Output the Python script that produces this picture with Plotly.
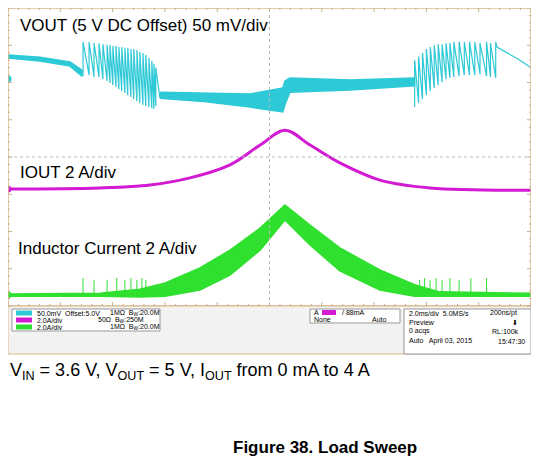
import plotly.graph_objects as go

# page body adds an 8 px margin, so the figure is 16 px smaller than the window
W, H = 523, 448
OFF = 8

# time axis: 2 ms/div, 10 divisions; vertical in scope divisions (8 div)
# VOUT band envelope (ms, div)
vout_t = [-10.0, -8.78, -7.63, -7.17]
vout_hi = [2.74, 2.68, 2.55, 2.33]
vout_lo = [2.66, 2.58, 2.44, 2.17]

# VOUT sawtooth teeth (ms, peak div, trough div)
tooth_t = [-7.13, -6.90, -6.71, -6.52, -6.37, -6.21, -6.10, -5.99, -5.87, -5.76, -5.65,
           -5.53, -5.42, -5.30, -5.19, -5.07, -4.96, -4.84, -4.73, -4.61, -4.50, -4.42, -4.35]
tooth_pk = [3.09, 3.09, 3.06, 3.06, 3.03, 3.01, 3.01, 2.98, 2.98, 2.95, 2.95,
            2.93, 2.93, 2.90, 2.90, 2.87, 2.82, 2.79, 2.74, 2.66, 2.58, 2.50, 2.40]
tooth_tr = [2.20, 2.15, 2.15, 2.09, 2.04, 1.99, 1.93, 1.88, 1.82, 1.77, 1.72,
            1.66, 1.61, 1.55, 1.50, 1.45, 1.40, 1.37, 1.34, 1.31, 1.29, 1.37, 1.45]

# VOUT low-ripple band
mid_t = [-4.19, -2.66, -0.75, 0.51, 0.59, 0.78, 3.07, 5.55]
mid_hi = [1.74, 1.72, 1.69, 1.85, 2.04, 2.12, 2.07, 2.12]
mid_lo = [1.58, 1.50, 1.34, 1.21, 1.40, 1.74, 1.80, 1.91]

# right sawtooth teeth
rtooth_t = [5.55, 5.70, 5.85, 6.00, 6.15, 6.30, 6.45, 6.60, 6.75, 6.90, 7.05, 7.25,
            7.45, 7.65, 7.85, 8.05, 8.30, 8.45, 8.65]
rtooth_pk = [2.60, 2.70, 2.80, 2.90, 2.95, 3.00, 3.03, 3.03, 3.06, 3.06, 3.09, 3.09,
             3.09, 3.09, 3.09, 3.06, 3.09, 3.06, 3.09]
rtooth_tr = [1.34, 1.45, 1.55, 1.66, 1.77, 1.85, 1.93, 2.01, 2.09, 2.12, 2.15, 2.17,
             2.20, 2.20, 2.20, 2.23, 2.17, 2.15, 2.12]
tail_t = [8.70, 9.10, 9.50, 9.95]
tail_v = [2.95, 2.79, 2.63, 2.42]

# IOUT trace
iout_t = [-10.0, -6.48, -4.57, -3.04, -1.51, -0.36, 0.59, 1.55, 2.69, 4.22, 6.14, 10.0]
iout_v = [-0.86, -0.83, -0.75, -0.56, -0.21, 0.32, 0.72, 0.32, -0.16, -0.62, -0.83, -0.89]

# inductor current envelope
il_t = [-10.0, -6.48, -4.95, -3.99, -2.66, -1.51, -0.36, 0.59, 1.55, 2.69, 4.22, 5.55, 6.50, 10.0]
il_hi = [-3.68, -3.66, -3.55, -3.38, -2.98, -2.50, -1.91, -1.29, -1.83, -2.44, -3.03, -3.43, -3.62, -3.66]
il_lo = [-3.74, -3.74, -3.76, -3.74, -3.57, -3.17, -2.50, -1.69, -2.36, -3.06, -3.57, -3.74, -3.74, -3.74]
spike_t = [-7.13, -6.71, -6.21, -5.84, -5.53, -5.30, -5.07, -4.88, -4.73, 5.74, 5.93, 6.14, 6.37, 6.60, 6.90, 7.25, 7.70, 8.30]
spike_v = [-3.25, -3.30, -3.30, -3.25, -3.30, -3.25, -3.30, -3.25, -3.30, -3.30, -3.25, -3.30, -3.25, -3.30, -3.25, -3.30, -3.25, -3.25]

CYAN = "#2dc9d6"
MAG = "#d21ad2"
GRN = "#2fe02f"

fig = go.Figure()


def band(t, hi, lo, color):
    fig.add_trace(go.Scatter(x=t + t[::-1], y=hi + lo[::-1], fill="toself", fillcolor=color,
                             line=dict(color=color, width=1.5), mode="lines", hoverinfo="skip"))


band(vout_t, vout_hi, vout_lo, CYAN)
band(mid_t, mid_hi, mid_lo, CYAN)

sx, sy = [], []
for i in range(len(tooth_t)):
    sx += [tooth_t[i], tooth_t[i]]
    sy += [tooth_tr[i - 1] if i else vout_lo[-1], tooth_pk[i]]
sx.append(mid_t[0]); sy.append(mid_lo[0])
fig.add_trace(go.Scatter(x=sx, y=sy, mode="lines", line=dict(color=CYAN, width=1.2)))

rx, ry = [mid_t[-1]], [mid_hi[-1]]
for i in range(len(rtooth_t)):
    rx += [rtooth_t[i], rtooth_t[i]]
    ry += [rtooth_tr[i], rtooth_pk[i]]
rx += tail_t; ry += tail_v
fig.add_trace(go.Scatter(x=rx, y=ry, mode="lines", line=dict(color=CYAN, width=1.2)))

fig.add_trace(go.Scatter(x=iout_t, y=iout_v, mode="lines", line=dict(color=MAG, width=3, shape="spline")))

band(il_t, il_hi, il_lo, GRN)
kx, ky = [], []
for t, v in zip(spike_t, spike_v):
    kx += [t, t, None]; ky += [-3.7, v, None]
fig.add_trace(go.Scatter(x=kx, y=ky, mode="lines", line=dict(color=GRN, width=1)))

# channel markers on left edge
fig.add_trace(go.Scatter(x=[-10, -10, -10], y=[2.1, -0.86, -3.7], mode="markers", cliponaxis=False,
                         marker=dict(color=[CYAN, MAG, GRN], size=7)))


def px(x):
    return (x - OFF) / W


def py(y):
    return 1 - (y - OFF) / H


shapes = [
    dict(type="rect", xref="paper", yref="paper", x0=px(8), x1=px(531), y0=py(306), y1=py(8),
         line=dict(color="#d9b98a", width=1.5)),
    dict(type="line", xref="x", yref="y", x0=0, x1=0, y0=-4, y1=4, line=dict(color="#bbbbbb", width=1, dash="dot")),
    dict(type="line", xref="x", yref="y", x0=-10, x1=10, y0=0, y1=0, line=dict(color="#bbbbbb", width=1, dash="dot")),
    dict(type="rect", xref="paper", yref="paper", x0=px(8), x1=px(531), y0=py(354), y1=py(306),
         fillcolor="#f2f2f2", line=dict(color="#d9b98a", width=1)),
    dict(type="rect", xref="paper", yref="paper", x0=px(12), x1=px(160), y0=py(331), y1=py(309),
         fillcolor="white", line=dict(color="#999", width=1)),
    dict(type="rect", xref="paper", yref="paper", x0=px(310), x1=px(400), y0=py(323), y1=py(309),
         fillcolor="white", line=dict(color="#999", width=1)),
    dict(type="rect", xref="paper", yref="paper", x0=px(404), x1=px(531), y0=py(354), y1=py(309),
         fillcolor="white", line=dict(color="#999", width=1)),
]
for yy, c in [(313, CYAN), (320, MAG), (327, GRN)]:
    shapes.append(dict(type="rect", xref="paper", yref="paper", x0=px(16), x1=px(32), y0=py(yy + 2.5), y1=py(yy - 2.5),
                       fillcolor=c, line=dict(width=0)))
shapes.append(dict(type="rect", xref="paper", yref="paper", x0=px(322), x1=px(336), y0=py(315), y1=py(310),
                   fillcolor=MAG, line=dict(width=0)))
# edge ticks
for i in range(51):
    xx = 8 + i * 523 / 50
    L = 4 if i % 5 == 0 else 2
    shapes.append(dict(type="line", xref="paper", yref="paper", x0=px(xx), x1=px(xx), y0=py(8), y1=py(8 + L),
                       line=dict(color="#c8b08a", width=1)))
    shapes.append(dict(type="line", xref="paper", yref="paper", x0=px(xx), x1=px(xx), y0=py(306), y1=py(306 - L),
                       line=dict(color="#c8b08a", width=1)))
for i in range(41):
    yy = 8 + i * 298 / 40
    L = 4 if i % 5 == 0 else 2
    shapes.append(dict(type="line", xref="paper", yref="paper", x0=px(8), x1=px(8 + L), y0=py(yy), y1=py(yy),
                       line=dict(color="#c8b08a", width=1)))
    shapes.append(dict(type="line", xref="paper", yref="paper", x0=px(531), x1=px(531 - L), y0=py(yy), y1=py(yy),
                       line=dict(color="#c8b08a", width=1)))


def txt(x, y, s, size, **kw):
    return dict(xref="paper", yref="paper", x=px(x), y=py(y), text=s, showarrow=False,
                xanchor=kw.pop("xanchor", "left"), yanchor="middle",
                font=dict(family="Liberation Sans, Arial", size=size, color="black"), **kw)


sm = 7
annotations = [
    txt(18, 25, "VOUT (5 V DC Offset) 50 mV/div", 17),
    txt(18, 172, "IOUT 2 A/div", 17),
    txt(16, 248, "Inductor Current 2 A/div", 17),
    txt(35, 313, "50.0mV  Offset:5.0V", sm), txt(108, 313, "1MΩ  B<sub>W</sub>:20.0M", sm),
    txt(35, 320, "2.0A/div", sm), txt(96, 320, "50Ω  B<sub>W</sub>:250M", sm),
    txt(35, 327, "2.0A/div", sm), txt(108, 327, "1MΩ  B<sub>W</sub>:20.0M", sm),
    txt(312, 312, "A", sm), txt(340, 312, "/ 88mA", sm),
    txt(312, 319, "None", sm), txt(370, 319, "Auto", sm),
    txt(407, 313, "2.0ms/div  5.0MS/s", sm), txt(488, 313, "200ns/pt", sm),
    txt(407, 322, "Preview", sm), txt(510, 322, "⬇", sm),
    txt(407, 331, "0 acqs", sm), txt(490, 331, "RL:100k", sm),
    txt(407, 341, "Auto   April 03, 2015", sm), txt(496, 341, "15:47:30", sm),
    txt(8, 371, "V<sub>IN</sub> = 3.6 V, V<sub>OUT</sub> = 5 V, I<sub>OUT</sub> from 0 mA to 4 A", 18),
    txt(325, 447, "<b>Figure 38. Load Sweep</b>", 17, xanchor="center"),
]

fig.update_layout(
    width=W, height=H, margin=dict(l=0, r=0, t=0, b=0),
    paper_bgcolor="white", plot_bgcolor="white", showlegend=False,
    xaxis=dict(domain=[px(8), px(531)], range=[-10, 10], visible=False),
    yaxis=dict(domain=[py(306), py(8)], range=[-4, 4], visible=False),
    shapes=shapes, annotations=annotations,
)

fig.write_html("out.html")
